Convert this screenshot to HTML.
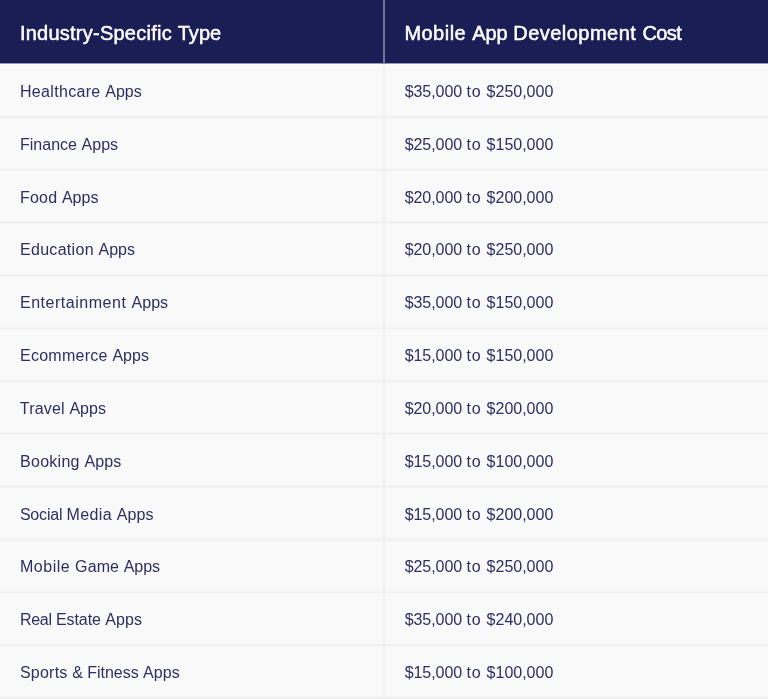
<!DOCTYPE html>
<html lang="en"><head><meta charset="utf-8"><title>Mobile App Development Cost</title>
<style>
html,body{margin:0;padding:0;background:#fff;}
body{width:768px;height:699px;overflow:hidden;position:relative;font-family:"Liberation Sans",sans-serif;}
svg.bg{position:absolute;left:0;top:0;display:block;}
.h{position:absolute;top:21px;height:24px;line-height:24px;color:#fff;font-weight:normal;font-size:20px;white-space:pre;-webkit-text-stroke:0.5px #fff;}
.t{position:absolute;height:20px;line-height:20px;color:#2d2f62;font-size:16px;white-space:pre;}
</style></head><body>
<svg class="bg" width="768" height="699" viewBox="0 0 768 699">
<rect x="0" y="0" width="768" height="699" fill="#f9f9f9"/>
<rect x="0" y="0" width="768" height="63.5" fill="#1b1e55"/>
<rect x="0" y="63.9" width="768" height="1.2" fill="#ffffff"/>
<rect x="383.05" y="0" width="1.9" height="63.5" fill="#75779a"/>
<rect x="383.05" y="65.1" width="1.9" height="634" fill="#f1f1f2"/>
<rect x="0" y="115.85" width="768" height="2.1" fill="#f0f0f1"/>
<rect x="0" y="168.67" width="768" height="2.1" fill="#f0f0f1"/>
<rect x="0" y="221.49" width="768" height="2.1" fill="#f0f0f1"/>
<rect x="0" y="274.31" width="768" height="2.1" fill="#f0f0f1"/>
<rect x="0" y="327.13" width="768" height="2.1" fill="#f0f0f1"/>
<rect x="0" y="379.95" width="768" height="2.1" fill="#f0f0f1"/>
<rect x="0" y="432.77" width="768" height="2.1" fill="#f0f0f1"/>
<rect x="0" y="485.59" width="768" height="2.1" fill="#f0f0f1"/>
<rect x="0" y="538.41" width="768" height="2.1" fill="#f0f0f1"/>
<rect x="0" y="591.23" width="768" height="2.1" fill="#f0f0f1"/>
<rect x="0" y="644.05" width="768" height="2.1" fill="#f0f0f1"/>
<rect x="0" y="696.87" width="768" height="2.1" fill="#f0f0f1"/>
</svg>
<div class="h" style="left:19.90px"><span style="letter-spacing:0.245px">Industry-Specific </span><span style="letter-spacing:0.055px">Type</span></div>
<div class="h" style="left:404.40px"><span style="letter-spacing:0.475px">Mobile </span><span style="letter-spacing:-0.036px">App </span><span style="letter-spacing:0.483px">Development </span><span style="letter-spacing:-0.555px">Cost</span></div>
<div class="t" style="left:20.00px;top:82.00px"><span style="letter-spacing:0.316px">Healthcare </span><span style="letter-spacing:-0.023px">Apps</span></div>
<div class="t" style="left:404.70px;top:82.00px"><span style="letter-spacing:-0.060px">$35,000 </span><span style="letter-spacing:0.770px">to </span><span style="letter-spacing:-0.005px">$250,000</span></div>
<div class="t" style="left:20.00px;top:134.82px"><span style="letter-spacing:0.004px">Finance </span><span style="letter-spacing:0.077px">Apps</span></div>
<div class="t" style="left:404.70px;top:134.82px"><span style="letter-spacing:-0.060px">$25,000 </span><span style="letter-spacing:0.770px">to </span><span style="letter-spacing:-0.005px">$150,000</span></div>
<div class="t" style="left:20.00px;top:187.64px"><span style="letter-spacing:0.197px">Food </span><span style="letter-spacing:0.010px">Apps</span></div>
<div class="t" style="left:404.70px;top:187.64px"><span style="letter-spacing:-0.060px">$20,000 </span><span style="letter-spacing:0.770px">to </span><span style="letter-spacing:-0.005px">$200,000</span></div>
<div class="t" style="left:20.00px;top:240.46px"><span style="letter-spacing:0.299px">Education </span><span style="letter-spacing:-0.056px">Apps</span></div>
<div class="t" style="left:404.70px;top:240.46px"><span style="letter-spacing:-0.060px">$20,000 </span><span style="letter-spacing:0.770px">to </span><span style="letter-spacing:-0.005px">$250,000</span></div>
<div class="t" style="left:20.00px;top:293.28px"><span style="letter-spacing:0.525px">Entertainment </span><span style="letter-spacing:0.077px">Apps</span></div>
<div class="t" style="left:404.70px;top:293.28px"><span style="letter-spacing:-0.060px">$35,000 </span><span style="letter-spacing:0.770px">to </span><span style="letter-spacing:-0.005px">$150,000</span></div>
<div class="t" style="left:20.00px;top:346.10px"><span style="letter-spacing:0.260px">Ecommerce </span><span style="letter-spacing:0.044px">Apps</span></div>
<div class="t" style="left:404.70px;top:346.10px"><span style="letter-spacing:-0.060px">$15,000 </span><span style="letter-spacing:0.770px">to </span><span style="letter-spacing:-0.005px">$150,000</span></div>
<div class="t" style="left:19.80px;top:398.92px"><span style="letter-spacing:0.185px">Travel </span><span style="letter-spacing:0.010px">Apps</span></div>
<div class="t" style="left:404.70px;top:398.92px"><span style="letter-spacing:-0.060px">$20,000 </span><span style="letter-spacing:0.770px">to </span><span style="letter-spacing:-0.005px">$200,000</span></div>
<div class="t" style="left:20.00px;top:451.74px"><span style="letter-spacing:0.279px">Booking </span><span style="letter-spacing:0.077px">Apps</span></div>
<div class="t" style="left:404.70px;top:451.74px"><span style="letter-spacing:-0.060px">$15,000 </span><span style="letter-spacing:0.770px">to </span><span style="letter-spacing:-0.005px">$100,000</span></div>
<div class="t" style="left:19.90px;top:504.56px"><span style="letter-spacing:-0.189px">Social </span><span style="letter-spacing:0.363px">Media </span><span style="letter-spacing:0.077px">Apps</span></div>
<div class="t" style="left:404.70px;top:504.56px"><span style="letter-spacing:-0.060px">$15,000 </span><span style="letter-spacing:0.770px">to </span><span style="letter-spacing:-0.005px">$200,000</span></div>
<div class="t" style="left:20.00px;top:557.38px"><span style="letter-spacing:0.503px">Mobile </span><span style="letter-spacing:0.097px">Game </span><span style="letter-spacing:0.010px">Apps</span></div>
<div class="t" style="left:404.70px;top:557.38px"><span style="letter-spacing:-0.060px">$25,000 </span><span style="letter-spacing:0.770px">to </span><span style="letter-spacing:-0.005px">$250,000</span></div>
<div class="t" style="left:20.00px;top:610.20px"><span style="letter-spacing:-0.290px">Real </span><span style="letter-spacing:-0.058px">Estate </span><span style="letter-spacing:0.044px">Apps</span></div>
<div class="t" style="left:404.70px;top:610.20px"><span style="letter-spacing:-0.060px">$35,000 </span><span style="letter-spacing:0.770px">to </span><span style="letter-spacing:-0.005px">$240,000</span></div>
<div class="t" style="left:19.90px;top:663.02px"><span style="letter-spacing:0.245px">Sports </span><span style="letter-spacing:-0.109px">&amp; </span><span style="letter-spacing:-0.014px">Fitness </span><span style="letter-spacing:0.077px">Apps</span></div>
<div class="t" style="left:404.70px;top:663.02px"><span style="letter-spacing:-0.060px">$15,000 </span><span style="letter-spacing:0.770px">to </span><span style="letter-spacing:-0.005px">$100,000</span></div>
</body></html>
